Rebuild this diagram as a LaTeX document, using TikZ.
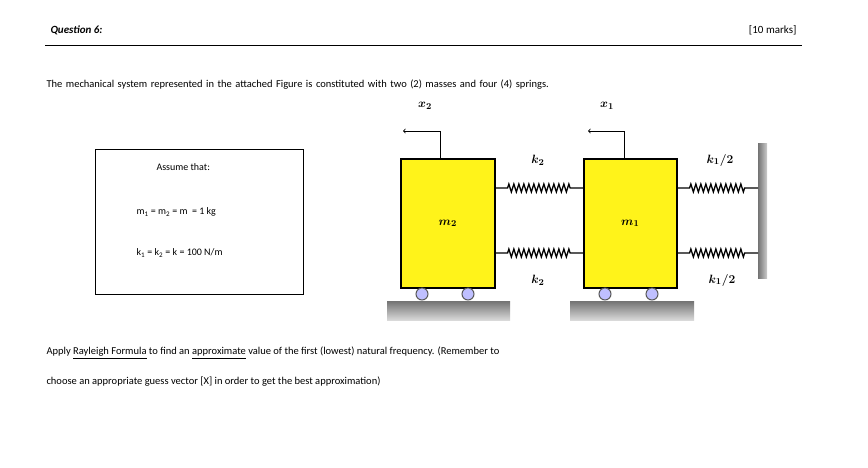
\documentclass[tikz,border=0pt]{standalone}
\usepackage{fontspec}
\setmainfont{Carlito}
\usepackage{amsmath}
\usetikzlibrary{decorations.pathmorphing}
\begin{document}
\begin{tikzpicture}[x=1pt,y=-1pt,
  mass/.style={draw,line width=1.6pt,fill=yellow!90!white},
  spr/.style={line width=1.3pt,decorate,decoration={zigzag,segment length=5pt,amplitude=4pt,pre length=12pt,post length=12pt}},
  wheel/.style={draw=gray!70!black,line width=1pt,fill=blue!25!white},
  gnd/.style={top color=gray!90!black,bottom color=gray!30,draw=none},
  wallst/.style={left color=gray!90!black,right color=gray!40,draw=none},
  txt/.style={font=\fontsize{10.5}{12}\selectfont,anchor=west},
  lab/.style={font=\fontsize{13}{14}\selectfont}]
\useasboundingbox (0,0) rectangle (868,467);
\node[anchor=west,font=\fontsize{11}{13}\selectfont\itshape\bfseries] (q) at (47,30) {Question 6:};
\node[anchor=east,font=\fontsize{11}{13}\selectfont] (mk) at (800,30) {[10 marks]};
\draw[line width=0.6pt] (45,45) -- (802,45);
\node[txt,text width=760pt,align=left] (intro) at (43,85) {The mechanical system represented in the attached Figure is constituted with two (2) masses and four (4) springs.};
\node[draw,line width=0.8pt,minimum width=208pt,minimum height=145pt,anchor=north west] (box) at (95,149) {};
\node[txt,font=\fontsize{10}{12}\selectfont] (a1) at (153,167) {Assume that:};
\node[txt,font=\fontsize{10}{12}\selectfont] (a2) at (133,212) {m\textsubscript{1} = m\textsubscript{2} = m\ \ = 1 kg};
\node[txt,font=\fontsize{10}{12}\selectfont] (a3) at (133,253) {k\textsubscript{1} = k\textsubscript{2} = k = 100 N/m};
% ground
\fill[gnd] (387,301) rectangle (510,320);
\fill[gnd] (570,301) rectangle (694,320);
\fill[wallst] (758,143) rectangle (767,278);
% masses
\node[mass,minimum width=94pt,minimum height=129pt,anchor=north west] (m2) at (400,158) {};
\node[mass,minimum width=93pt,minimum height=129pt,anchor=north west] (m1) at (583,158) {};
\node[lab] at (m2.center) {$\boldsymbol{m_2}$};
\node[lab] at (m1.center) {$\boldsymbol{m_1}$};
\coordinate (w1) at (758,188);
\coordinate (w2) at (758,253);
\draw[spr] (m2.east |- 0,188) -- (m1.west |- 0,188);
\draw[spr] (m2.east |- 0,253) -- (m1.west |- 0,253);
\draw[spr] (m1.east |- 0,188) -- (w1);
\draw[spr] (m1.east |- 0,253) -- (w2);
\node[lab] at (538,160) {$\boldsymbol{k_2}$};
\node[lab] at (538,280) {$\boldsymbol{k_2}$};
\node[lab] at (720,160) {$\boldsymbol{k_1/2}$};
\node[lab] at (722,280) {$\boldsymbol{k_1/2}$};
% wheels
\foreach \x in {422,468,605,652} \draw[wheel] (\x,294) circle (6);
% arrows
\draw[->,line width=0.8pt] (440,158) -- (440,131) -- (403,131);
\draw[->,line width=0.8pt] (624,158) -- (624,131) -- (588,131);
\node[lab] at (425,106) {$\boldsymbol{x_2}$};
\node[lab] at (607,106) {$\boldsymbol{x_1}$};
\node[txt] (b1) at (43,353) {Apply \underline{Rayleigh Formula} to find an \underline{approximate} value of the first (lowest) natural frequency. (Remember to};
\node[txt] (b2) at (43,382) {choose an appropriate guess vector [X] in order to get the best approximation)};
\end{tikzpicture}
\end{document}
